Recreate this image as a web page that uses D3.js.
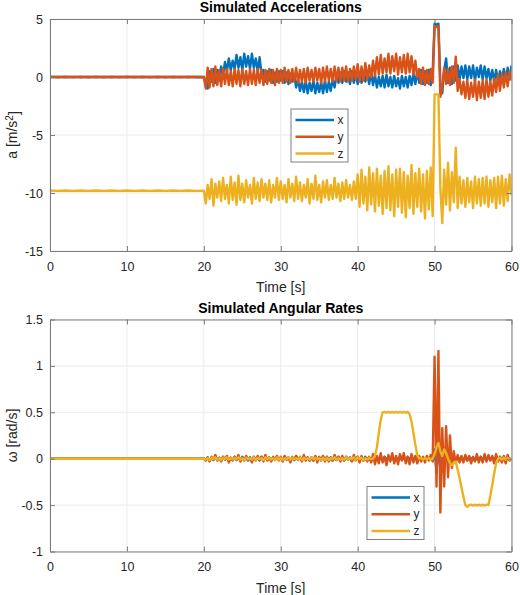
<!DOCTYPE html>
<html><head><meta charset="utf-8">
<script src="https://cdn.jsdelivr.net/npm/d3@7"></script>
<style>body{margin:0;background:#fff}text{font-family:"Liberation Sans",Arial,sans-serif}</style>
</head><body>
<svg id="chart" width="520" height="595"></svg>
<script>
// sampling instants (s): 1 s while quiet, 0.25 s from t = 20 s
const TIME = [...d3.range(0, 20, 1), ...d3.range(20, 60.001, 0.25)];
const X_TICKS = [0, 10, 20, 30, 40, 50, 60];
const ACC_TICKS = [-15, -10, -5, 0, 5];
const GYRO_TICKS = [-1, -0.5, 0, 0.5, 1, 1.5];
const SERIES_NAMES = ["x", "y", "z"];
const COLORS = ["#0072BD", "#D95319", "#EDB120"];

// Simulated accelerations [m/s^2]
const ACC_X = [
  0.02,-0.02,0.02,-0.02,0.02,-0.02,0.02,-0.02,0.02,-0.02,
  0.02,-0.02,0.02,-0.02,0.02,-0.02,0.02,-0.02,0.02,-0.02,
  0.0,-0.6,-1.0,0.5,-0.4,0.7,-0.5,0.6,
  -0.3,0.9,0.2,1.3,0.5,1.6,0.6,1.4,
  0.7,1.9,0.8,1.7,0.6,2.0,0.9,1.8,
  0.7,2.0,0.8,1.6,0.5,1.7,0.3,0.6,
  -0.4,0.5,-0.3,0.6,-0.5,0.4,-0.4,0.5,
  -0.3,0.5,-0.5,0.4,-0.6,0.3,-0.4,0.2,
  -0.9,-0.2,-1.2,-0.4,-1.3,-0.3,-1.4,-0.5,
  -1.2,-0.3,-1.4,-0.5,-1.3,-0.4,-1.4,-0.3,
  -1.3,-0.4,-1.2,-0.2,-0.9,0.2,-0.5,0.4,
  -0.5,0.5,-0.4,0.4,-0.6,0.5,-0.5,0.3,
  -0.6,0.4,-0.5,0.5,-0.4,0.3,-0.6,0.4,
  -0.7,0.2,-0.9,0.0,-0.8,0.1,-0.9,0.2,
  -0.8,0.0,-0.9,0.1,-0.8,-0.1,-1.0,0.1,
  -0.8,0.0,-0.9,0.1,-0.7,0.3,-0.6,0.5,
  -0.5,0.6,-0.6,0.5,-0.5,0.6,-0.7,0.4,
  4.6,4.5,4.6,-0.5,-1.4,0.6,1.6,-0.5,
  0.8,-0.6,0.9,-0.3,1.0,-0.2,0.9,-0.1,
  1.0,-0.2,0.9,-0.1,1.0,-0.3,0.8,0.0,
  1.0,-0.2,0.9,-0.1,0.7,-0.3,0.6,-0.4,
  0.6,-0.4,0.5,-0.3,0.7,-0.3,0.8,-0.2,
  1.0
];
const ACC_Y = [
  -0.02,0.02,-0.02,0.02,-0.02,0.02,-0.02,0.02,-0.02,0.02,
  -0.02,0.02,-0.02,0.02,-0.02,0.02,-0.02,0.02,-0.02,0.02,
  0.0,-1.0,0.8,-0.9,0.7,-0.8,0.9,-0.7,
  0.6,-0.8,0.7,-0.6,0.7,-0.7,0.5,-0.8,
  0.7,-0.6,0.6,-0.8,0.7,-0.6,0.5,-0.7,
  0.7,-0.6,0.6,-0.7,0.7,-0.5,0.6,-0.7,
  0.6,-0.6,0.7,-0.5,0.6,-0.7,0.7,-0.5,
  0.6,-0.5,0.8,-0.4,0.6,-0.5,0.7,-0.4,
  0.8,-0.5,0.6,-0.4,0.7,-0.5,0.8,-0.3,
  0.6,-0.4,0.8,-0.3,0.7,-0.5,0.8,-0.4,
  0.9,-0.3,0.7,-0.4,0.9,-0.3,0.8,-0.4,
  0.8,-0.3,0.9,-0.4,0.7,-0.3,0.9,-0.2,
  1.1,-0.4,0.9,-0.3,1.2,-0.2,1.0,0.0,
  1.4,0.1,1.7,0.2,1.9,0.3,1.6,0.4,
  2.0,0.3,1.8,0.5,2.0,0.2,1.7,0.4,
  1.9,0.3,2.0,0.4,1.8,0.2,1.4,0.0,
  0.7,-0.6,0.8,-0.7,0.6,-0.6,0.7,-0.5,
  4.4,4.3,4.4,-1.7,-0.9,0.8,-0.6,0.7,
  -0.7,0.9,-0.5,1.75,-1.2,-0.2,-1.5,-0.4,
  -1.8,-0.3,-1.9,-0.5,-1.7,-0.2,-2.0,-0.4,
  -1.8,-0.3,-1.9,-0.2,-1.7,-0.4,-1.6,-0.1,
  -1.3,0.2,-1.2,0.3,-0.9,0.4,-0.8,0.5,
  -0.3
];
const ACC_Z = [
  -9.78,-9.82,-9.78,-9.82,-9.78,-9.82,-9.78,-9.82,-9.78,-9.82,
  -9.78,-9.82,-9.78,-9.82,-9.78,-9.82,-9.78,-9.82,-9.78,-9.82,
  -9.8,-10.9,-9.3,-10.5,-8.8,-11.1,-9.2,-10.4,
  -9.0,-10.7,-8.7,-10.5,-9.3,-10.9,-8.6,-10.6,
  -9.1,-11.0,-8.5,-10.6,-9.2,-10.8,-8.9,-10.4,
  -9.3,-10.9,-8.7,-10.5,-9.1,-10.7,-8.8,-10.4,
  -9.2,-10.6,-8.9,-10.8,-9.3,-10.4,-8.7,-10.6,
  -9.0,-10.5,-9.3,-10.8,-8.8,-10.4,-9.2,-10.7,
  -8.6,-10.5,-9.1,-10.7,-9.3,-10.4,-8.8,-10.9,
  -9.2,-10.5,-8.5,-10.6,-9.3,-10.8,-9.0,-10.4,
  -8.9,-10.6,-9.3,-10.5,-8.7,-10.4,-9.2,-10.7,
  -9.1,-10.5,-8.9,-10.4,-9.3,-10.6,-9.0,-10.5,
  -8.4,-11.2,-8.0,-10.9,-8.6,-11.5,-7.8,-11.0,
  -8.3,-11.6,-7.9,-11.1,-8.5,-11.8,-8.1,-11.3,
  -7.7,-11.5,-8.4,-12.0,-8.0,-11.2,-7.9,-11.7,
  -8.2,-12.1,-8.5,-11.3,-7.6,-11.8,-8.3,-11.2,
  -7.9,-11.6,-8.4,-12.2,-8.1,-11.4,-7.8,-12.0,
  -1.5,-1.5,-1.5,-9.5,-12.6,-8.0,-11.0,-7.4,
  -11.5,-8.2,-10.8,-6.1,-11.3,-8.6,-10.9,-8.9,
  -11.2,-8.7,-10.8,-9.0,-11.3,-8.6,-10.9,-8.8,
  -11.1,-8.7,-10.9,-8.6,-11.2,-8.9,-10.8,-8.7,
  -11.3,-8.6,-10.9,-8.5,-11.1,-8.8,-10.7,-8.4,
  -10.2
];

// Simulated angular rates [rad/s]
const GYRO_X = [
  0,0,0,0,0,0,0,0,0,0,
  0,0,0,0,0,0,0,0,0,0,
  0.0,-0.01,0.015,-0.02,0.01,-0.015,0.02,-0.01,
  0.01,-0.02,0.02,-0.01,0.015,-0.02,0.01,-0.015,
  0.02,-0.015,0.01,-0.02,0.02,-0.01,0.015,-0.02,
  0.015,-0.02,0.02,-0.015,0.01,-0.02,0.02,-0.01,
  0.02,-0.01,0.015,-0.02,0.01,-0.015,0.02,-0.01,
  0.01,-0.02,0.02,-0.01,0.015,-0.02,0.01,-0.015,
  0.02,-0.015,0.01,-0.02,0.02,-0.01,0.015,-0.02,
  0.015,-0.02,0.02,-0.015,0.01,-0.02,0.02,-0.01,
  0.02,-0.01,0.015,-0.02,0.01,-0.015,0.02,-0.01,
  0.01,-0.02,0.02,-0.01,0.015,-0.02,0.01,-0.015,
  0.02,-0.015,0.01,-0.02,0.02,-0.01,0.015,-0.02,
  0.015,-0.02,0.02,-0.015,0.01,-0.02,0.02,-0.01,
  0.02,-0.01,0.015,-0.02,0.01,-0.015,0.02,-0.01,
  0.01,-0.02,0.02,-0.01,0.015,-0.02,0.01,-0.015,
  0.02,-0.015,0.01,-0.02,0.02,-0.01,0.015,-0.02,
  0.1,-0.15,0.12,-0.1,0.08,-0.06,0.05,-0.04,
  0.02,-0.02,0.015,-0.02,0.02,-0.015,0.02,-0.02,
  0.01,-0.02,0.02,-0.01,0.015,-0.02,0.01,-0.015,
  0.02,-0.015,0.01,-0.02,0.02,-0.01,0.015,-0.02,
  0.015,-0.02,0.02,-0.015,0.01,-0.02,0.02,-0.01,
  0
];
const GYRO_Y = [
  0,0,0,0,0,0,0,0,0,0,
  0,0,0,0,0,0,0,0,0,0,
  0.0,-0.02,0.01,-0.03,0.02,-0.01,0.04,-0.02,
  0.01,-0.03,0.02,-0.01,0.03,-0.04,0.01,-0.02,
  0.02,-0.01,0.04,-0.03,0.01,-0.02,0.03,-0.01,
  0.01,-0.04,0.02,-0.02,0.03,-0.01,0.02,-0.03,
  0.04,-0.02,0.01,-0.03,0.02,-0.01,0.03,-0.02,
  0.02,-0.03,0.03,-0.01,0.01,-0.04,0.02,-0.01,
  0.03,-0.01,0.02,-0.03,0.04,-0.02,0.01,-0.02,
  0.01,-0.02,0.03,-0.04,0.02,-0.01,0.03,-0.03,
  0.02,-0.03,0.01,-0.02,0.04,-0.01,0.02,-0.03,
  0.03,-0.02,0.02,-0.01,0.01,-0.03,0.04,-0.02,
  0.02,-0.04,0.03,-0.02,0.01,-0.03,0.02,-0.04,
  0.05,-0.06,0.03,-0.05,0.06,-0.04,0.02,-0.07,
  0.04,-0.03,0.06,-0.05,0.03,-0.06,0.05,-0.02,
  0.06,-0.05,0.02,-0.06,0.05,-0.04,0.03,-0.05,
  0.03,-0.03,0.02,-0.04,0.03,-0.02,0.04,-0.03,
  1.1,-0.3,1.16,-0.58,0.33,-0.3,0.35,-0.2,
  0.25,-0.1,0.08,-0.05,0.04,-0.04,0.03,-0.04,
  0.04,-0.02,0.03,-0.05,0.02,-0.03,0.05,-0.04,
  0.02,-0.04,0.05,-0.03,0.04,-0.02,0.03,-0.05,
  0.05,-0.03,0.02,-0.04,0.03,-0.05,0.04,-0.02,
  0
];
const GYRO_Z = [
  0,0,0,0,0,0,0,0,0,0,
  0,0,0,0,0,0,0,0,0,0,
  0.0,-0.01,0.005,-0.015,0.01,-0.005,0.015,-0.01,
  0.005,-0.015,0.01,-0.005,0.015,-0.01,0.005,-0.01,
  0.01,-0.005,0.015,-0.01,0.005,-0.015,0.01,-0.005,
  0.005,-0.01,0.015,-0.015,0.01,-0.005,0.005,-0.015,
  0.015,-0.005,0.01,-0.01,0.005,-0.015,0.015,-0.01,
  0.01,-0.015,0.005,-0.005,0.015,-0.01,0.01,-0.005,
  0.005,-0.01,0.015,-0.015,0.01,-0.005,0.005,-0.01,
  0.015,-0.005,0.01,-0.01,0.005,-0.015,0.01,-0.015,
  0.01,-0.015,0.005,-0.005,0.015,-0.01,0.005,-0.01,
  0.005,-0.01,0.015,-0.01,0.01,-0.005,0.015,-0.015,
  0.015,-0.005,0.01,-0.015,0.005,-0.01,0.01,-0.005,
  0.0,0.03,0.12,0.28,0.42,0.5,0.505,0.495,
  0.505,0.495,0.505,0.495,0.505,0.495,0.505,0.495,
  0.505,0.495,0.505,0.48,0.4,0.28,0.15,0.04,
  0.0,0.01,-0.01,0.01,-0.01,0.01,-0.01,0.0,
  0.05,0.12,0.17,0.08,0.03,0.1,0.06,0.0,
  -0.05,-0.07,-0.04,-0.03,-0.12,-0.21,-0.31,-0.41,
  -0.5,-0.52,-0.5,-0.495,-0.505,-0.495,-0.505,-0.495,
  -0.505,-0.495,-0.505,-0.495,-0.5,-0.4,-0.28,-0.16,
  -0.05,0.0,0.01,-0.01,0.01,-0.01,0.01,-0.01,
  0
];

[ACC_X, ACC_Y, ACC_Z, GYRO_X, GYRO_Y, GYRO_Z].forEach((a, i) => {
  if (a.length !== TIME.length) throw new Error("series " + i + " has " + a.length + " values, expected " + TIME.length);
});

const svg = d3.select("#chart");
const AXIS_COLOR = "#7a7a7a", TEXT_COLOR = "#262626", GRID_COLOR = "#ebebeb";
const x = d3.scaleLinear().domain([0, 60]).range([50, 511.5]);

function drawPanel(cfg) {
  const y = d3.scaleLinear().domain(cfg.yDomain).range([cfg.bottom, cfg.top]);
  const g = svg.append("g");
  const clipId = "clip" + cfg.id;
  svg.append("clipPath").attr("id", clipId).append("rect")
    .attr("x", x(0)).attr("y", cfg.top).attr("width", x(60) - x(0)).attr("height", cfg.bottom - cfg.top);

  // grid
  g.append("g").selectAll("line").data(X_TICKS).join("line")
    .attr("x1", d => x(d)).attr("x2", d => x(d)).attr("y1", cfg.top).attr("y2", cfg.bottom)
    .attr("stroke", GRID_COLOR).attr("stroke-width", 1);
  g.append("g").selectAll("line").data(cfg.yTicks).join("line")
    .attr("y1", d => y(d)).attr("y2", d => y(d)).attr("x1", x(0)).attr("x2", x(60))
    .attr("stroke", GRID_COLOR).attr("stroke-width", 1);

  // lines
  const line = d3.line().x((d, i) => x(TIME[i])).y(d => y(d));
  const lg = g.append("g").attr("clip-path", `url(#${clipId})`);
  cfg.series.forEach((s, k) => {
    lg.append("path").datum(s).attr("d", line).attr("fill", "none")
      .attr("stroke", COLORS[k]).attr("stroke-width", cfg.lineWidth).attr("stroke-linejoin", "round");
  });

  // axes
  const fmt = d => String(d);
  const ax = g.append("g").attr("transform", `translate(0,${cfg.bottom})`)
    .call(d3.axisBottom(x).tickValues(X_TICKS).tickSizeInner(-5).tickSizeOuter(0).tickPadding(11).tickFormat(fmt));
  const ay = g.append("g").attr("transform", `translate(${x(0)},0)`)
    .call(d3.axisLeft(y).tickValues(cfg.yTicks).tickSizeInner(-5).tickSizeOuter(0).tickPadding(7).tickFormat(fmt));
  const at = g.append("g").attr("transform", `translate(0,${cfg.top})`)
    .call(d3.axisTop(x).tickValues(X_TICKS).tickSizeInner(-5).tickSizeOuter(0).tickFormat(""));
  const ar = g.append("g").attr("transform", `translate(${x(60)},0)`)
    .call(d3.axisRight(y).tickValues(cfg.yTicks).tickSizeInner(-5).tickSizeOuter(0).tickFormat(""));
  [ax, ay, at, ar].forEach(a => {
    a.select(".domain").attr("stroke", AXIS_COLOR).attr("stroke-width", 1);
    a.selectAll(".tick line").attr("stroke", AXIS_COLOR);
    a.selectAll(".tick text").attr("fill", TEXT_COLOR).style("font-size", "12.5px")
      .style("font-family", '"Liberation Sans", Arial, sans-serif');
  });

  // title
  g.append("text").attr("x", (x(0) + x(60)) / 2).attr("y", cfg.top - 7)
    .attr("text-anchor", "middle").attr("fill", "#000").style("font-size", "14px").style("font-weight", "bold")
    .text(cfg.title);
  // x label
  g.append("text").attr("x", (x(0) + x(60)) / 2).attr("y", cfg.bottom + 41)
    .attr("text-anchor", "middle").attr("fill", TEXT_COLOR).style("font-size", "14px").text("Time [s]");
  // y label
  const yl = g.append("text").attr("transform", `translate(17,${(cfg.top + cfg.bottom) / 2}) rotate(-90)`)
    .attr("text-anchor", "middle").attr("fill", TEXT_COLOR).style("font-size", "14px");
  cfg.ylabel(yl);

  // legend
  const L = cfg.legend;
  const lgd = g.append("g");
  lgd.append("rect").attr("x", L.x).attr("y", L.y).attr("width", 57).attr("height", 53)
    .attr("fill", "#fff").attr("stroke", "#7f7f7f").attr("stroke-width", 1);
  SERIES_NAMES.forEach((n, k) => {
    const cy = L.y + 11 + k * 16.7;
    lgd.append("line").attr("x1", L.x + 4.5).attr("x2", L.x + 43).attr("y1", cy).attr("y2", cy)
      .attr("stroke", COLORS[k]).attr("stroke-width", 2.5);
    lgd.append("text").attr("x", L.x + 46.5).attr("y", cy).attr("dy", "0.35em")
      .attr("fill", TEXT_COLOR).style("font-size", "12px").text(n);
  });
}

drawPanel({
  id: 1, top: 19, bottom: 251, yDomain: [-15, 5], yTicks: ACC_TICKS,
  title: "Simulated Accelerations", lineWidth: 2.4,
  series: [ACC_X, ACC_Y, ACC_Z],
  legend: { x: 291, y: 109 },
  ylabel: t => {
    t.append("tspan").text("a [m/s");
    t.append("tspan").attr("dy", "-0.45em").style("font-size", "10px").text("2");
    t.append("tspan").attr("dy", "0.45em").text("]");
  }
});
drawPanel({
  id: 2, top: 319.5, bottom: 551.5, yDomain: [-1, 1.5], yTicks: GYRO_TICKS,
  title: "Simulated Angular Rates", lineWidth: 2.4,
  series: [GYRO_X, GYRO_Y, GYRO_Z],
  legend: { x: 367, y: 486.5 },
  ylabel: t => t.text("ω [rad/s]")
});
</script>
</body></html>
